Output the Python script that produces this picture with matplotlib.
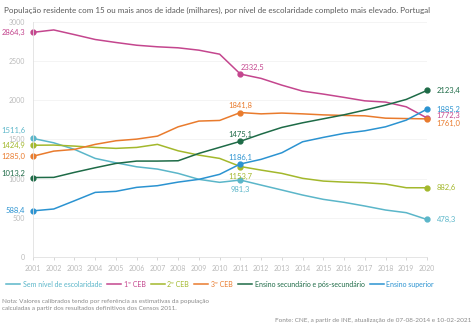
import matplotlib
matplotlib.use("Agg")
import matplotlib.pyplot as plt
import numpy as np

plt.rcParams['font.family'] = ['Lato', 'DejaVu Sans']

years = list(range(2001, 2021))
sem_nivel = [1511.6, 1456, 1372, 1257, 1201, 1150, 1121, 1066, 990, 952,
             981.3, 917, 854, 790, 735, 697, 650, 599, 565, 478.3]
ceb1 = [2864.3, 2895, 2835, 2773, 2735, 2700, 2680, 2667, 2637, 2586,
        2332.5, 2277, 2191, 2115, 2077, 2035, 1991, 1975, 1915, 1772.3]
ceb2 = [1424.9, 1427, 1414, 1397, 1385, 1397, 1436, 1354, 1299, 1257,
        1153.7, 1108, 1066, 1003, 968, 955, 947, 930, 883, 882.6]
ceb3 = [1285.0, 1350, 1372, 1436, 1482, 1503, 1541, 1660, 1733, 1741,
        1841.8, 1825, 1835, 1825, 1812, 1805, 1800, 1770, 1765, 1761.0]
secundario = [1013.2, 1015, 1079, 1138, 1193, 1223, 1223, 1227, 1321, 1398,
              1475.1, 1567, 1652, 1711, 1762, 1813, 1873, 1936, 2009, 2123.4]
superior = [588.4, 612, 717, 824, 837, 888, 909, 955, 990, 1054,
            1186.1, 1245, 1329, 1469, 1525, 1576, 1609, 1660, 1745, 1885.2]

names = ['Sem nível de escolaridade', '1º CEB', '2º CEB', '3º CEB',
         'Ensino secundário e pós-secundário', 'Ensino superior']
series = [sem_nivel, ceb1, ceb2, ceb3, secundario, superior]
colors = ['#5bb6c9', '#c4468e', '#a3b82c', '#e97b2d', '#1e6b47', '#2b93d1']
# label offsets (points) at 2011: above or below
off2011 = [-7, 5, -7, 5, 5, 5]
# offsets at 2020 to separate close labels
off2020 = [0, 1.5, 0, -3.5, 0, 0]
off2001 = [5.5, 0, 0, 0, 3, 0]


def fmt(v):
    return ('%.1f' % v).replace('.', ',')


fig = plt.figure(figsize=(4.74, 3.27), dpi=100)
ax = fig.add_axes([33 / 474, 70 / 327, 394 / 474, 235.3 / 327])

for name, vals, c, o11, o20, o01 in zip(names, series, colors, off2011, off2020, off2001):
    ax.plot(years, vals, color=c, lw=1.1, label=name, clip_on=False)
    idx = [0, 10, 19]
    ax.plot([years[i] for i in idx], [vals[i] for i in idx], 'o', color=c,
            ms=3.5, clip_on=False)
    ax.annotate(fmt(vals[0]), (years[0], vals[0]), xytext=(-5.5, o01),
                textcoords='offset points', ha='right', va='center',
                color=c, fontsize=5.5)
    ax.annotate(fmt(vals[10]), (years[10], vals[10]), xytext=(0, o11),
                textcoords='offset points', ha='left' if name == '1º CEB' else 'center',
                va='center', color=c, fontsize=5.5)
    ax.annotate(fmt(vals[19]), (years[19], vals[19]), xytext=(7, o20),
                textcoords='offset points', ha='left', va='center',
                color=c, fontsize=5.5)

ax.set_xlim(2001, 2020)
ax.set_ylim(0, 3000)
ax.set_xticks(years)
ax.set_xticklabels([str(y) for y in years])
ax.set_yticks([0, 500, 1000, 1500, 2000, 2500, 3000])
ax.tick_params(colors='#c8c8c8', labelsize=5, length=2, width=0.5, labelcolor='#bbbbbb')
ax.tick_params(axis='y', length=0, pad=6)
ax.grid(axis='y', color='#f2f2f2', lw=0.6)
for s in ['top', 'right']:
    ax.spines[s].set_visible(False)
for s in ['left', 'bottom']:
    ax.spines[s].set_color('#e0e0e0')
    ax.spines[s].set_linewidth(0.6)
ax.set_axisbelow(True)

fig.text(0.008, 0.978, 'População residente com 15 ou mais anos de idade (milhares), por nível de escolaridade completo mais elevado. Portugal',
         fontsize=5.8, color='#595959', ha='left', va='top')

leg = ax.legend(loc='center', bbox_to_anchor=(0.5 - 10 / 394, -0.115), ncol=6,
                frameon=False, fontsize=5.0, handlelength=2.0, columnspacing=0.75,
                handletextpad=0.4, labelcolor='linecolor')

fig.text(0.004, 0.067, 'Nota: Valores calibrados tendo por referência as estimativas da população\ncalculadas a partir dos resultados definitivos dos Censos 2011.',
         fontsize=4.6, color='#8a8a8a', ha='left', va='center', linespacing=1.5)
fig.text(0.995, 0.012, 'Fonte: CNE, a partir de INE, atualização de 07-08-2014 e 10-02-2021',
         fontsize=4.6, color='#8a8a8a', ha='right', va='bottom')

fig.savefig('out.png', dpi=100)
